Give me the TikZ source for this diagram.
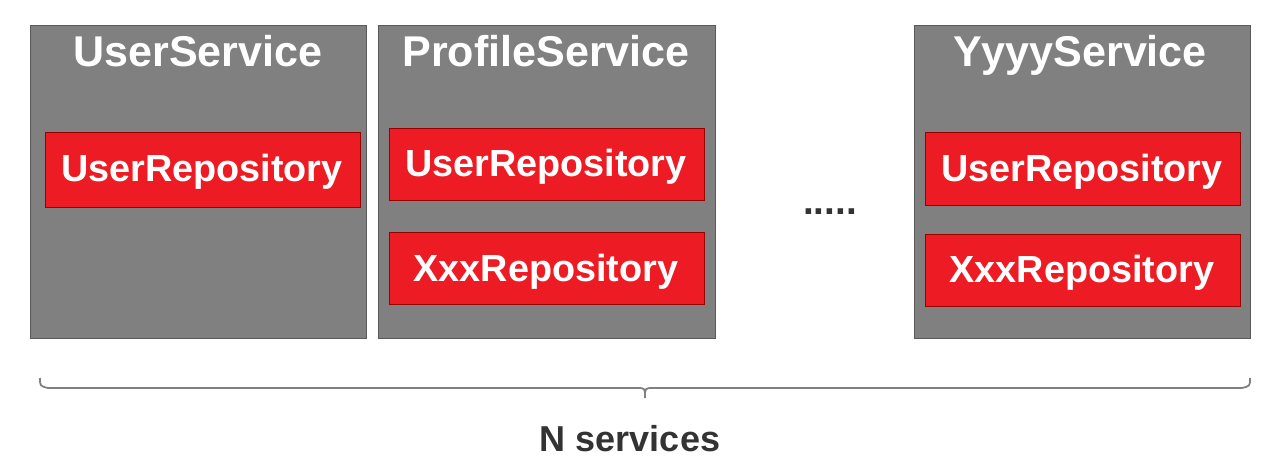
\documentclass[tikz,border=0pt]{standalone}
\usepackage{fontspec}
\setmainfont{Liberation Sans}
\definecolor{svcgray}{HTML}{808080}
\definecolor{repred}{HTML}{ED1C24}
\definecolor{txtdark}{HTML}{333333}
\begin{document}
\begin{tikzpicture}[x=0.02cm,y=-0.02cm,
  svc/.style={fill=svcgray,draw=gray!70!black,line width=0.4pt},
  repo/.style={fill=repred,draw=red!60!black,line width=0.4pt},
  ttl/.style={anchor=base,text=white,font=\bfseries\fontsize{24.5}{28}\selectfont},
  rtxt/.style={anchor=base,text=white,font=\bfseries\fontsize{21.5}{25}\selectfont}]
\useasboundingbox (0,0) rectangle (1280,469);
\fill[white] (0,0) rectangle (1280,469);
% services
\draw[svc] (30,25) rectangle (366,338);
\draw[svc] (378,25) rectangle (715,338);
\draw[svc] (914,25) rectangle (1250,338);
\node[ttl] (t1) at (198,67) {UserService};
\node[ttl] (t2) at (546,67) {ProfileService};
\node[ttl] (t3) at (1080,67) {YyyyService};
% repositories
\draw[repo] (45,132) rectangle (360,207);
\node[rtxt] (r1) at (202,182) {UserRepository};
\draw[repo] (389,128) rectangle (704,200);
\node[rtxt] (r2) at (546,177) {UserRepository};
\draw[repo] (389,232) rectangle (704,304);
\node[rtxt] (r3) at (546,281) {XxxRepository};
\draw[repo] (925,132) rectangle (1240,205);
\node[rtxt] (r4) at (1082,182) {UserRepository};
\draw[repo] (925,234) rectangle (1240,306);
\node[rtxt] (r5) at (1082,283) {XxxRepository};
\node[anchor=base,text=txtdark,font=\bfseries\fontsize{22}{26}\selectfont] (dots) at (830,215) {.....};
% brace
\draw[gray,line width=1pt] (40,378) .. controls (40,386) .. (48,388) -- (637,388)
  .. controls (645,388) .. (645,398) .. controls (645,388) .. (653,388) -- (1242,388)
  .. controls (1250,386) .. (1250,378);
\node[anchor=base,text=txtdark,font=\bfseries\fontsize{20.5}{24}\selectfont] (ns) at (630,451) {N services};
\end{tikzpicture}
\end{document}
